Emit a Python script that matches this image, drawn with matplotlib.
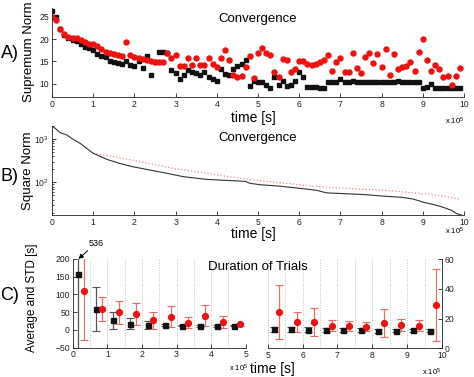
import numpy as np
import matplotlib
matplotlib.use("Agg")
import matplotlib.pyplot as plt
from matplotlib.ticker import LogLocator, NullFormatter

plt.rcParams["font.family"] = ["Liberation Sans", "DejaVu Sans"]
plt.rcParams["mathtext.fontset"] = "custom"
plt.rcParams["mathtext.rm"] = "Liberation Sans"
plt.rcParams["mathtext.it"] = "Liberation Sans:italic"

# ---- A) supremum norm, one sample every 1e4 s (x in units of 1e5 s)
sup_time = np.round(np.arange(100) * 0.1, 1)
sup_black = [26.3, 25.0, 22.2, 21.0, 20.3, 19.7, 19.6, 19.0, 18.3, 18.0,
             17.6, 16.7, 16.3, 16.0, 15.1, 14.8, 14.6, 14.5, 15.0, 14.2,
             14.0, 15.0, 13.5, 16.2, 12.0, 14.9, 17.2, 17.1, 17.0, 13.0,
             12.5, 11.1, 11.9, 13.0, 12.6, 12.4, 11.9, 12.6, 11.5, 11.0,
             10.5, 13.2, 12.2, 11.9, 13.4, 13.9, 14.4, 15.3, 9.5, 10.5,
             10.4, 10.4, 9.6, 9.1, 11.5, 9.8, 10.7, 9.5, 9.8, 10.5,
             12.6, 11.6, 9.3, 9.3, 9.3, 9.0, 9.0, 10.3, 10.3, 10.3,
             11.0, 10.3, 10.3, 10.6, 10.3, 10.3, 10.3, 10.3, 10.3, 10.3,
             10.3, 10.3, 10.3, 10.3, 10.7, 10.3, 10.3, 10.3, 10.3, 10.3,
             9.0, 9.3, 9.9, 9.1, 9.1, 9.1, 9.1, 9.1, 9.1, 9.1]
sup_red = [24.9, 24.2, 22.2, 21.2, 20.4, 20.2, 20.2, 19.7, 19.3, 19.0,
           18.8, 18.4, 17.8, 17.2, 16.9, 16.6, 16.4, 16.2, 19.3, 16.4,
           16.0, 15.7, 15.6, 15.3, 15.0, 14.9, 14.8, 14.8, 16.8, 15.8,
           16.4, 14.0, 14.0, 15.8, 14.3, 15.7, 14.3, 14.2, 15.8, 14.5,
           13.7, 15.8, 17.6, 15.3, 12.0, 11.6, 11.8, 13.7, 16.2, 11.3,
           17.0, 18.1, 16.9, 16.4, 12.6, 11.5, 15.6, 15.3, 12.6, 13.3,
           15.0, 15.1, 14.5, 14.3, 14.5, 14.9, 15.3, 16.5, 12.8, 14.8,
           15.7, 12.6, 12.6, 16.8, 13.6, 12.4, 15.9, 17.0, 14.7, 16.7,
           13.8, 17.7, 12.0, 16.7, 13.2, 13.8, 14.0, 14.8, 12.8, 17.1,
           20.0, 15.4, 12.9, 14.1, 13.2, 11.6, 11.8, 9.8, 11.7, 13.5]

# ---- B) square norm (log scale)
sq_time = [0.0, 0.2, 0.36, 0.5, 0.68, 1.0, 1.33, 1.63, 1.96, 2.38, 2.78, 3.19,
           3.75, 4.2, 4.56, 4.7, 4.8, 5.05, 5.5, 6.02, 6.4, 6.67, 7.23, 7.6,
           8.04, 8.5, 8.77, 9.02, 9.3, 9.5, 9.7, 9.82, 9.94]
sq_black = [2030, 1400, 1237, 1000, 796, 468, 340, 275, 229, 192, 162, 135,
            117, 111, 107, 105, 95, 88, 82, 72.4, 66, 57, 54, 52,
            48, 45, 41, 34.5, 30, 26.4, 22.5, 19, 17.5]
sq_red_time = [1.0, 1.33, 2.14, 2.94, 3.75, 4.56, 5.0, 5.7, 6.43, 7.2, 8.04,
               8.7, 9.34, 9.9]
sq_red = [470, 420, 300, 210, 162, 124, 110, 95, 80, 72, 66, 58, 51, 41]
sq_ticks = [100, 1000]
sq_ticklabels = [r"10$^2$", r"10$^3$"]

# ---- C) duration of trials, bins of 5e4 s
bins_left = [0.0, 0.5, 1.0, 1.5, 2.0, 2.5, 3.0, 3.5, 4.0, 4.5]
bins_right = [5.0, 5.5, 6.0, 6.5, 7.0, 7.5, 8.0, 8.5, 9.0, 9.5]
dur_black_mean_l = [157, 59, 27, 18, 14, 13, 12, 11, 11, 12]
dur_black_std_l = [379, 62, 24, 15, 10, 2.5, 2, 2, 2, 2]
dur_red_mean_l = [111, 60, 50, 46, 27, 37, 21, 40, 22, 16]
dur_red_std_l = [139, 34, 33, 31, 24, 30, 16, 30, 17, 4]
dur_black_mean_r = [12.8, 12.8, 12.6, 12.4, 12.4, 12.1, 11.9, 11.9, 12.1, 11.8]
dur_black_std_r = [1.6, 1.5, 1.5, 1.2, 1.2, 1.3, 1.3, 1.2, 1.2, 1.0]
dur_red_mean_r = [24.3, 17.5, 17.8, 15.3, 14.8, 14.6, 17.1, 15.7, 15.3, 29.2]
dur_red_std_r = [18.2, 6.8, 9.4, 3.7, 3.3, 2.9, 9.2, 3.9, 3.6, 24.2]
max_black_first = 536

W, H = 474, 377
RED = "#ee1111"
RED_ERR = "#ec6a6a"
BLACK = "#111111"
GREY_ERR = "#555555"


def rect(left, top, right, bottom):
    return [left / W, 1 - bottom / H, (right - left) / W, (bottom - top) / H]


def ftext(x, y, s, **kw):
    fig.text(x / W, 1 - y / H, s, **kw)


def style_axes(ax, right=False):
    for side in ("top", "right", "left", "bottom"):
        ax.spines[side].set_visible(False)
    ax.spines["bottom"].set_visible(True)
    ax.spines["right" if right else "left"].set_visible(True)
    for sp in ax.spines.values():
        sp.set_linewidth(0.6)
        sp.set_color("#222222")
    ax.tick_params(direction="in", length=3, width=0.6, labelsize=6.2,
                   colors="#222222", pad=2)
    ax.tick_params(which="minor", direction="in", length=1.5, width=0.5)
    ax.patch.set_alpha(0)


fig = plt.figure(figsize=(W / 100, H / 100), dpi=100)

# A)
axA = fig.add_axes(rect(52, 8, 464, 97))
style_axes(axA)
axA.plot(sup_time, sup_black, ls="none", marker="s", ms=3.0, color=BLACK,
         mec=BLACK)
axA.plot(sup_time, sup_red, ls="none", marker="o", ms=3.6, color=RED, mec=RED)
axA.set_xlim(0, 10)
axA.set_ylim(7, 27)
axA.set_xticks(range(11))
axA.set_yticks([10, 15, 20, 25])

# B)
axB = fig.add_axes(rect(52, 125.5, 464, 215))
style_axes(axB)
axB.set_yscale("log")
axB.plot(sq_red_time, sq_red, ls=":", lw=0.9, color="#f08a8a")
axB.plot(sq_time, sq_black, ls="-", lw=0.8, color="#333333")
axB.set_xlim(0, 10)
axB.set_ylim(17.6, 2050)
axB.set_xticks(range(11))
axB.set_yticks(sq_ticks)
axB.set_yticklabels(sq_ticklabels)
axB.yaxis.set_minor_locator(LogLocator(base=10, subs=np.arange(2, 10), numticks=20))
axB.yaxis.set_minor_formatter(NullFormatter())

# C) left part
axL = fig.add_axes(rect(72.7, 259, 245.7, 347.7))
style_axes(axL)
for b in bins_left[1:]:
    axL.axvline(b, color="#aaaaaa", ls=(0, (1, 2)), lw=0.6, zorder=0)
xb = [b + 0.5 / 3 for b in bins_left]
xr = [b + 1.0 / 3 for b in bins_left]
axL.errorbar(xb, dur_black_mean_l, yerr=dur_black_std_l, fmt="s", ms=3.6,
             color=BLACK, ecolor=GREY_ERR, elinewidth=0.9, capsize=3,
             capthick=0.8)
axL.errorbar(xr, dur_red_mean_l, yerr=dur_red_std_l, fmt="o", ms=4.2,
             color=RED, ecolor=RED_ERR, elinewidth=0.9, capsize=3,
             capthick=0.8)
axL.set_xlim(0, 5)
axL.set_ylim(-50, 200)
axL.set_xticks(range(6))
axL.set_yticks(range(-50, 201, 50))
axL.annotate(str(max_black_first), xy=(xb[0], 200), xytext=(7, 8),
             textcoords="offset points", fontsize=6.5, ha="left", va="bottom",
             annotation_clip=False,
             arrowprops=dict(arrowstyle="-|>", color="black", lw=0.7,
                             mutation_scale=7, shrinkA=0, shrinkB=0))

# C) right part
axR = fig.add_axes(rect(267.7, 259.3, 442, 348.3))
style_axes(axR, right=True)
for b in bins_right:
    axR.axvline(b, color="#aaaaaa", ls=(0, (1, 2)), lw=0.6, zorder=0)
xb = [b + 0.5 / 3 for b in bins_right]
xr = [b + 1.0 / 3 for b in bins_right]
axR.errorbar(xb, dur_black_mean_r, yerr=dur_black_std_r, fmt="s", ms=3.6,
             color=BLACK, ecolor=GREY_ERR, elinewidth=0.9, capsize=3,
             capthick=0.8)
axR.errorbar(xr, dur_red_mean_r, yerr=dur_red_std_r, fmt="o", ms=4.2,
             color=RED, ecolor=RED_ERR, elinewidth=0.9, capsize=3,
             capthick=0.8)
axR.set_xlim(5, 10)
axR.set_ylim(0, 60)
axR.set_xticks(range(5, 11))
axR.set_yticks([0, 20, 40, 60])
axR.yaxis.tick_right()

# texts
ftext(258, 19, "Convergence", fontsize=9.5, ha="center", va="center")
ftext(258, 138, "Convergence", fontsize=9.5, ha="center", va="center")
ftext(258, 267, "Duration of Trials", fontsize=9.5, ha="center", va="center")

ftext(253, 118, "time [s]", fontsize=10, ha="center", va="center")
ftext(253, 234, "time [s]", fontsize=10, ha="center", va="center")
ftext(272, 369, "time [s]", fontsize=10, ha="center", va="center")

ftext(464, 121, r"x 10$^5$", fontsize=5.5, ha="right", va="center")
ftext(464, 231, r"x 10$^5$", fontsize=5.5, ha="right", va="center")
ftext(248, 368, r"x 10$^5$", fontsize=5.5, ha="right", va="center")
ftext(441, 372, r"x 10$^5$", fontsize=5.5, ha="right", va="center")

ftext(29, 52, "Supremum Norm", fontsize=9.5, rotation=90, ha="center", va="center")
ftext(28, 171, "Square Norm", fontsize=9.5, rotation=90, ha="center", va="center")
ftext(32, 298, "Average and STD [s]", fontsize=8.5, rotation=90, ha="center",
      va="center")

ftext(1, 54, "A)", fontsize=13, ha="left", va="center")
ftext(1, 177, "B)", fontsize=13, ha="left", va="center")
ftext(0, 295, "C)", fontsize=13, ha="left", va="center")

fig.savefig("out.png", dpi=100)
